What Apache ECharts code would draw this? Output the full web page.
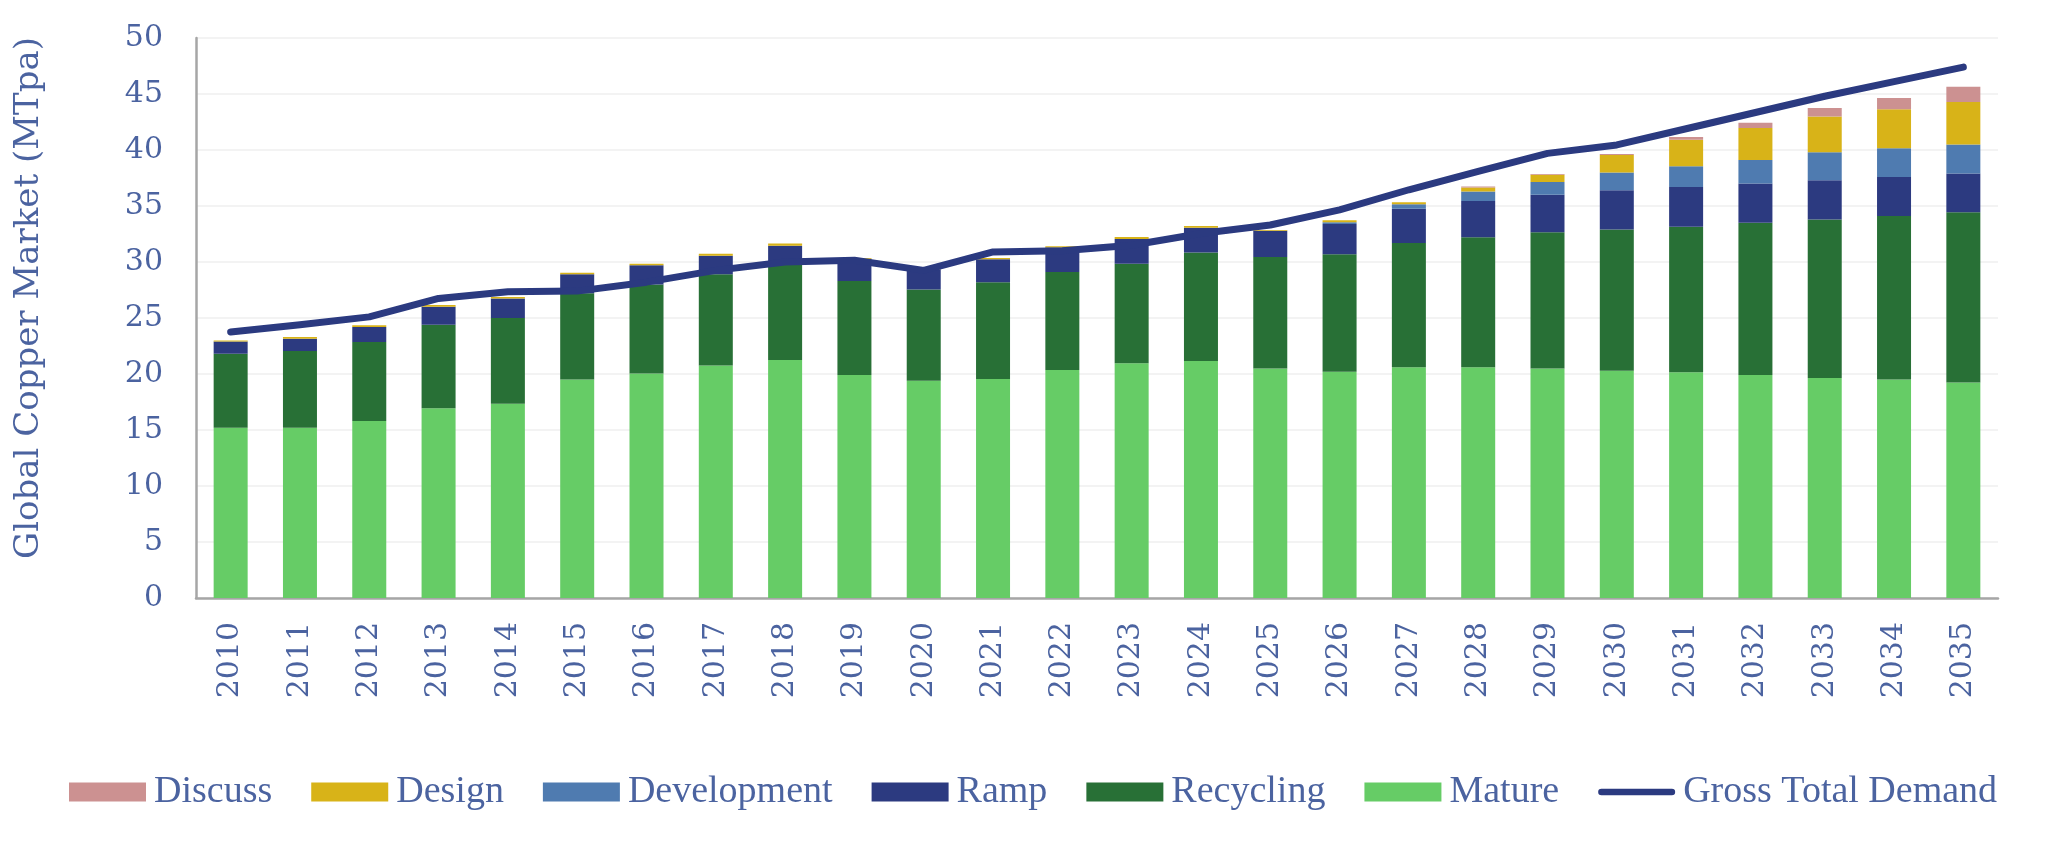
<!DOCTYPE html>
<html>
<head>
<meta charset="utf-8">
<title>Global Copper Market</title>
<script src="https://cdn.jsdelivr.net/npm/echarts@6/dist/echarts.min.js"></script>
<style>
    html, body { margin: 0; padding: 0; background: #ffffff; }
    #main { width: 2048px; height: 842px; }
</style>
</head>
<body>
<div id="main"></div>
<script>
var years = ['2010', '2011', '2012', '2013', '2014', '2015', '2016', '2017', '2018', '2019', '2020', '2021', '2022',
    '2023', '2024', '2025', '2026', '2027', '2028', '2029', '2030', '2031', '2032', '2033', '2034', '2035'];

// stacked supply, MTpa (bottom to top)
var mature = [15.2, 15.2, 15.8, 16.95, 17.35, 19.5, 20.05, 20.75, 21.25, 19.9, 19.4, 19.55, 20.35,
    20.95, 21.15, 20.5, 20.2, 20.6, 20.6, 20.5, 20.3, 20.15, 19.9, 19.65, 19.5, 19.25];
var recycling = [6.6, 6.85, 7.05, 7.45, 7.65, 7.7, 7.95, 8.15, 8.5, 8.4, 8.15, 8.65, 8.75,
    8.9, 9.7, 9.95, 10.5, 11.1, 11.6, 12.15, 12.6, 13.0, 13.6, 14.15, 14.6, 15.2];
var ramp = [1.1, 1.1, 1.35, 1.6, 1.75, 1.7, 1.7, 1.65, 1.7, 2.0, 1.8, 2.05, 2.2,
    2.2, 2.2, 2.35, 2.7, 3.05, 3.25, 3.35, 3.5, 3.55, 3.5, 3.5, 3.5, 3.45];
var development = [0, 0, 0, 0, 0, 0, 0, 0, 0, 0, 0, 0, 0,
    0, 0, 0, 0.15, 0.4, 0.85, 1.15, 1.6, 1.85, 2.1, 2.5, 2.55, 2.6];
var design = [0.1, 0.15, 0.15, 0.15, 0.12, 0.15, 0.15, 0.18, 0.2, 0.05, 0.07, 0.1, 0.1,
    0.18, 0.17, 0.05, 0.18, 0.18, 0.36, 0.65, 1.55, 2.36, 2.86, 3.18, 3.49, 3.78];
var discuss = [0, 0, 0, 0, 0, 0, 0, 0, 0, 0, 0, 0, 0,
    0, 0, 0, 0, 0, 0.08, 0.06, 0.09, 0.24, 0.48, 0.78, 1.01, 1.37];

// gross total demand line
var demand = [23.75, 24.4, 25.1, 26.75, 27.35, 27.4, 28.2, 29.25, 30.0, 30.15, 29.25, 30.9, 31.0,
    31.5, 32.55, 33.3, 34.65, 36.45, 38.1, 39.7, 40.45, 41.9, 43.35, 44.8, 46.1, 47.4];

var yTicks = [0, 5, 10, 15, 20, 25, 30, 35, 40, 45, 50];

var textColor = '#4b63a0';
var axisGray = '#a6a6a6';
var lineIcon = 'path://M3.5,0 H78.5 A3.5,3.5 0 0 1 78.5,7 H3.5 A3.5,3.5 0 0 1 3.5,0 Z';

var dom = document.getElementById('main');
var myChart = echarts.init(dom);
var option = null;

function barSeries(name, data, color) {
    return {
        name: name,
        type: 'bar',
        stack: 'supply',
        barWidth: 34,
        data: data,
        itemStyle: { color: color },
        emphasis: { disabled: true }
    };
}

option = {
    animation: false,
    backgroundColor: '#ffffff',
    textStyle: { fontFamily: 'DejaVu Serif', color: textColor },
    grid: {
        left: 196,
        right: 50,
        top: 38,
        bottom: 244,
        containLabel: false
    },
    legend: {
        data: [
            { name: 'Discuss', icon: 'rect' },
            { name: 'Design', icon: 'rect' },
            { name: 'Development', icon: 'rect' },
            { name: 'Ramp', icon: 'rect' },
            { name: 'Recycling', icon: 'rect' },
            { name: 'Mature', icon: 'rect' },
            { name: 'Gross Total Demand', icon: lineIcon }
        ],
        left: 64,
        top: 768,
        itemWidth: 77,
        itemHeight: 19,
        itemGap: 39,
        textStyle: {
            fontFamily: 'Liberation Serif',
            fontSize: 38,
            color: textColor,
            padding: [0, 0, 0, 3]
        }
    },
    xAxis: {
        type: 'category',
        data: years,
        axisTick: { show: false },
        axisLine: { lineStyle: { color: axisGray, width: 2.5 } },
        axisLabel: {
            rotate: 90,
            margin: 24,
            fontFamily: 'DejaVu Serif',
            fontSize: 30,
            color: textColor
        }
    },
    yAxis: {
        type: 'value',
        min: yTicks[0],
        max: yTicks[yTicks.length - 1],
        interval: 5,
        name: 'Global Copper Market (MTpa)',
        nameLocation: 'middle',
        nameGap: 150,
        nameTextStyle: {
            fontFamily: 'DejaVu Serif',
            fontSize: 34,
            color: textColor,
            padding: [0, 0, 0, 40]
        },
        axisLine: { show: true, lineStyle: { color: axisGray, width: 2.5 } },
        axisTick: { show: false },
        splitLine: { lineStyle: { color: '#efefef', width: 1.5 } },
        axisLabel: {
            margin: 33,
            fontFamily: 'DejaVu Serif',
            fontSize: 30,
            color: textColor
        }
    },
    series: [
        barSeries('Mature', mature, '#66cc66'),
        barSeries('Recycling', recycling, '#287036'),
        barSeries('Ramp', ramp, '#2c3a80'),
        barSeries('Development', development, '#4f7bb0'),
        barSeries('Design', design, '#d8b318'),
        barSeries('Discuss', discuss, '#cc9191'),
        {
            name: 'Gross Total Demand',
            type: 'line',
            data: demand,
            symbol: 'none',
            z: 5,
            lineStyle: { color: '#2b3a80', width: 7, cap: 'round', join: 'round' },
            itemStyle: { color: '#2b3a80' },
            emphasis: { disabled: true }
        }
    ]
};

if (option && typeof option === 'object') {
    myChart.setOption(option, true);
}
</script>
</body>
</html>
